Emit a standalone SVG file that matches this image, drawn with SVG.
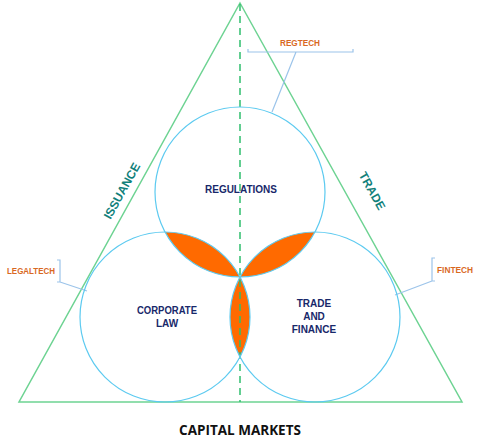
<svg xmlns="http://www.w3.org/2000/svg" width="480" height="447" viewBox="0 0 480 447">
<style>
.tri{fill:none;stroke:#6dd392;stroke-width:1.5}
.axis{fill:none;stroke:#2fbf6e;stroke-width:1.5;stroke-dasharray:7 5}
.circ{fill:none;stroke:#5ccaf0;stroke-width:1.2}
.petal{fill:#ff6a00;stroke:none}
.lead{fill:none;stroke:#9cc4ea;stroke-width:1.2}
.tech{font-family:"Liberation Sans",Arial,sans-serif;font-weight:bold;font-size:9.5px;fill:#d9691f}
.side{font-family:"Liberation Sans",Arial,sans-serif;font-weight:bold;font-size:12px;fill:#11807a;text-anchor:middle}
.lbl{font-family:"Liberation Sans",Arial,sans-serif;font-weight:bold;font-size:10px;fill:#18286a;text-anchor:middle}
.title{font-family:"Open Sans","Liberation Sans",sans-serif;font-weight:bold;font-size:13.5px;fill:#111;text-anchor:middle}
</style>
<rect width="480" height="447" fill="#fff"/>
<g id="petals">
<path class="petal" d="M165,232 A85,85 0 0 0 240,277 A85,85 0 0 0 165,232 Z"/>
<path class="petal" d="M315,232 A85,85 0 0 1 240,277 A85,85 0 0 1 315,232 Z"/>
<path class="petal" d="M240,277 A85,85 0 0 0 240,357 A85,85 0 0 0 240,277 Z"/>
</g>
<g id="triangle">
<polygon class="tri" points="240,3 462,402 19,402"/>
</g>
<g id="connectors">
<line class="axis" x1="240" y1="4" x2="240" y2="402"/>
<path class="lead" d="M248,49 V52 H353 V49 M296,52 L272,112"/>
<path class="lead" d="M57,260 H60 V282 H57 M60,282 L87,291"/>
<path class="lead" d="M435,258 H432 V281 H435 M432,281 L395,295"/>
</g>
<g id="regulations">
<circle class="circ" cx="240" cy="192" r="85"/>
<text class="lbl" x="241" y="193" textLength="72" lengthAdjust="spacingAndGlyphs">REGULATIONS</text>
</g>
<g id="corporate-law">
<circle class="circ" cx="165" cy="317" r="85"/>
<text class="lbl" x="167" y="314" textLength="60" lengthAdjust="spacingAndGlyphs">CORPORATE</text>
<text class="lbl" x="167" y="327">LAW</text>
</g>
<g id="trade-finance">
<circle class="circ" cx="315" cy="317" r="85"/>
<text class="lbl" x="314" y="307">TRADE</text>
<text class="lbl" x="314" y="320">AND</text>
<text class="lbl" x="314" y="333">FINANCE</text>
</g>
<g id="regtech"><text class="tech" x="280" y="46" textLength="40" lengthAdjust="spacingAndGlyphs">REGTECH</text></g>
<g id="legaltech"><text class="tech" x="7" y="274" textLength="48" lengthAdjust="spacingAndGlyphs">LEGALTECH</text></g>
<g id="fintech"><text class="tech" x="437" y="273" textLength="36" lengthAdjust="spacingAndGlyphs">FINTECH</text></g>
<g id="issuance"><text class="side" transform="translate(122,191) rotate(-61)" y="4">ISSUANCE</text></g>
<g id="trade"><text class="side" transform="translate(372,191) rotate(61)" y="4">TRADE</text></g>
<g id="capital-markets"><text class="title" x="240" y="435">CAPITAL MARKETS</text></g>
</svg>
